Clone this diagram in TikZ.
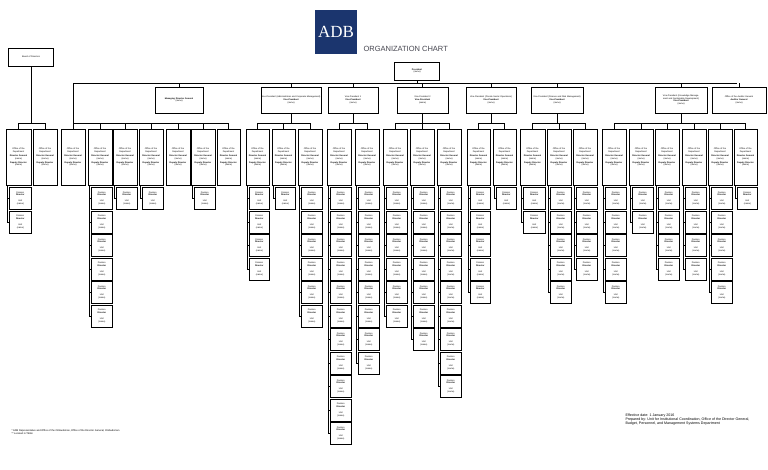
\documentclass[tikz,border=0pt]{standalone}
\usepackage{fontspec}
\setmainfont{Liberation Sans}
\begin{document}
\begin{tikzpicture}[x=1pt,y=-1pt,
  box/.style={draw,line width=0.6pt,fill=white,inner sep=0.5pt,align=center,font=\fontsize{2.2}{2.8}\selectfont,text width=#1},
  box/.default=20pt,
  ln/.style={line width=0.6pt}]
\useasboundingbox (0,0) rectangle (768,469);
\fill[white] (0,0) rectangle (768,469);
% logo
\node[fill={rgb,255:red,27;green,53;blue,110},minimum width=40pt,minimum height=44pt,text=white,font=\fontsize{17}{17}\selectfont] (logo) at (336,32) {\fontspec{Liberation Serif}ADB};
\node[anchor=west,font=\fontsize{7.5}{8}\selectfont,text={rgb,255:red,70;green,70;blue,80}] (title) at (360,49) {ORGANIZATION CHART};
% top boxes
\node[box=44pt,minimum height=18pt] (bod) at (31,57) {Board of Directors};
\node[box=44pt,minimum height=18pt] (pres) at (417,71) {\textbf{President}\\(name)};
\coordinate (bl) at (73,83); \coordinate (br) at (737,83);
\draw[ln] (pres.south) -- (417,83);
\draw[ln] (bl) -- (br);
\foreach \nm/\xa/\xb/\t in {mdg/155/203/{\textbf{Managing Director General}\\(name)},
  vpa/261/321/{Vice-President (Administration and Corporate Management)\\\textbf{Vice-President}\\(name)},
  vpo/328/378/{Vice-President 1\\\textbf{Vice-President}\\(name)},
  vpt/397/448/{Vice-President 2\\\textbf{Vice-President}\\(name)},
  vpp/466/516/{Vice-President (Private Sector Operations)\\\textbf{Vice-President}\\(name)},
  vpf/531/583/{Vice-President (Finance and Risk Management)\\\textbf{Vice-President}\\(name)},
  vpk/655/707/{Vice-President (Knowledge Management and Sustainable Development)\\\textbf{Vice-President}\\(name)},
  oag/712/766/{Office of the Auditor General\\\textbf{Auditor General}\\(name)}}{
  \pgfmathsetmacro\c{(\xa+\xb)/2}\pgfmathsetmacro\w{\xb-\xa-1}
  \node[box=\w pt,minimum height=26pt] (\nm) at (\c,100) {\t};
  \draw[ln] (\c,83) -- (\nm.north);
}
\draw[ln] (bl) -- (73,123);
% third row departments
\foreach \i/\xa/\xb/\n in {1/6/31/2,2/33/57/0,3/61/85/0,4/88/112/6,5/113/137/1,6/139/163/1,7/166/190/0,8/191/215/1,9/217/240/0,
  10/246/269/4,11/272/295/1,12/298/322/6,13/327/351/11,14/355/379/8,15/383/407/6,16/410/434/7,17/437/461/9,18/467/490/5,19/493/516/1,
  20/520/545/2,21/547/571/5,22/573/597/4,23/602/626/5,24/629/653/2,25/655/679/4,26/682/706/4,27/708/732/5,28/734/757/1}{
  \pgfmathsetmacro\c{(\xa+\xb)/2}\pgfmathsetmacro\w{\xb-\xa-1}
  \node[box=\w pt,minimum height=56pt,anchor=north] (d\i) at (\c,129) {Office of the\\Department\\[1pt]\textbf{Director General}\\(name)\\[1pt]\textbf{Deputy Director}\\(name)\\[14pt]};
  \draw[ln] (d\i.north) -- (\c,123);
  \ifnum\n>0
  \foreach \k in {1,...,\n}{
    \pgfmathsetmacro\yy{187+(\k-1)*23.5}
    \node[box=\w pt-3pt,minimum height=22pt,anchor=north west] (s\i-\k) at (\xa+3,\yy) {Division\\\textbf{Director}\\[3pt]Unit\\(name)};
    \draw[ln] ([xshift=1.5pt]d\i.south west) |- (s\i-\k.west);
  }
  \fi
}
% buses
\draw[ln] (bod.south) -- (31,123); \draw[ln] (18.5,123) -- (45,123);
\draw[ln] (73,123) -- (228.5,123);
\foreach \nm/\a/\b in {vpa/257.5/310,vpo/339/367,vpt/395/449,vpp/478.5/504.5,vpf/532.5/585,vpk/614/745.5}{
  \draw[ln] (\nm.south) |- (\a,123); \draw[ln] (\a,123) -- (\b,123);}
% footers
\node[anchor=north west,align=left,font=\fontsize{2.5}{3.2}\selectfont] (fn) at (8,426) {* ADB Representative and Office of the Ombudsman, Office of the Director General, Ombudsman\\** Located in Tbilisi};
\node[anchor=north west,align=left,font=\fontsize{3.6}{4.4}\selectfont] (eff) at (622,410) {Effective date: 1 January 2016\\Prepared by: Unit for Institutional Coordination, Office of the Director General,\\Budget, Personnel, and Management Systems Department};
\end{tikzpicture}
\end{document}
